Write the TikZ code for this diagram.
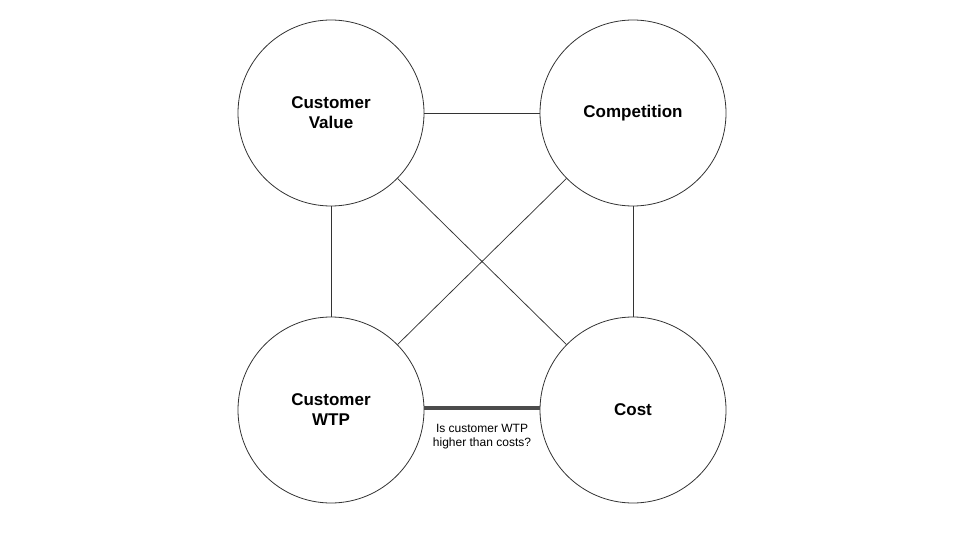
\documentclass[tikz,border=0pt]{standalone}
\usepackage{fontspec}
\setmainfont{Liberation Sans}
\begin{document}
\begin{tikzpicture}[x=1pt,y=-1pt,
  circ/.style={circle,draw=black!80,line width=0.8pt,minimum size=186pt,inner sep=0pt,align=center,font=\fontsize{17}{20}\selectfont\bfseries},
  link/.style={draw=black!80,line width=0.75pt}]
\useasboundingbox (0,0) rectangle (960,540);
\node[circ] (cv) at (331,113) {Customer\\Value};
\node[circ] (comp) at (633,113) {Competition};
\node[circ] (wtp) at (331,410) {Customer\\WTP};
\node[circ] (cost) at (633,410) {Cost};
\draw[link] (cv) -- (comp);
\draw[link] (cv) -- (wtp);
\draw[link] (comp) -- (cost);
\draw[link] (cv) -- (cost);
\draw[link] (comp) -- (wtp);
\draw[draw=black!70,line width=4.5pt] (wtp.east |- 0,408) coordinate (a) -- (cost.west |- 0,408) coordinate (b);
\node[align=center,font=\fontsize{12}{14}\selectfont] (lbl) at (482,437) {Is customer WTP\\higher than costs?};
\end{tikzpicture}
\end{document}
